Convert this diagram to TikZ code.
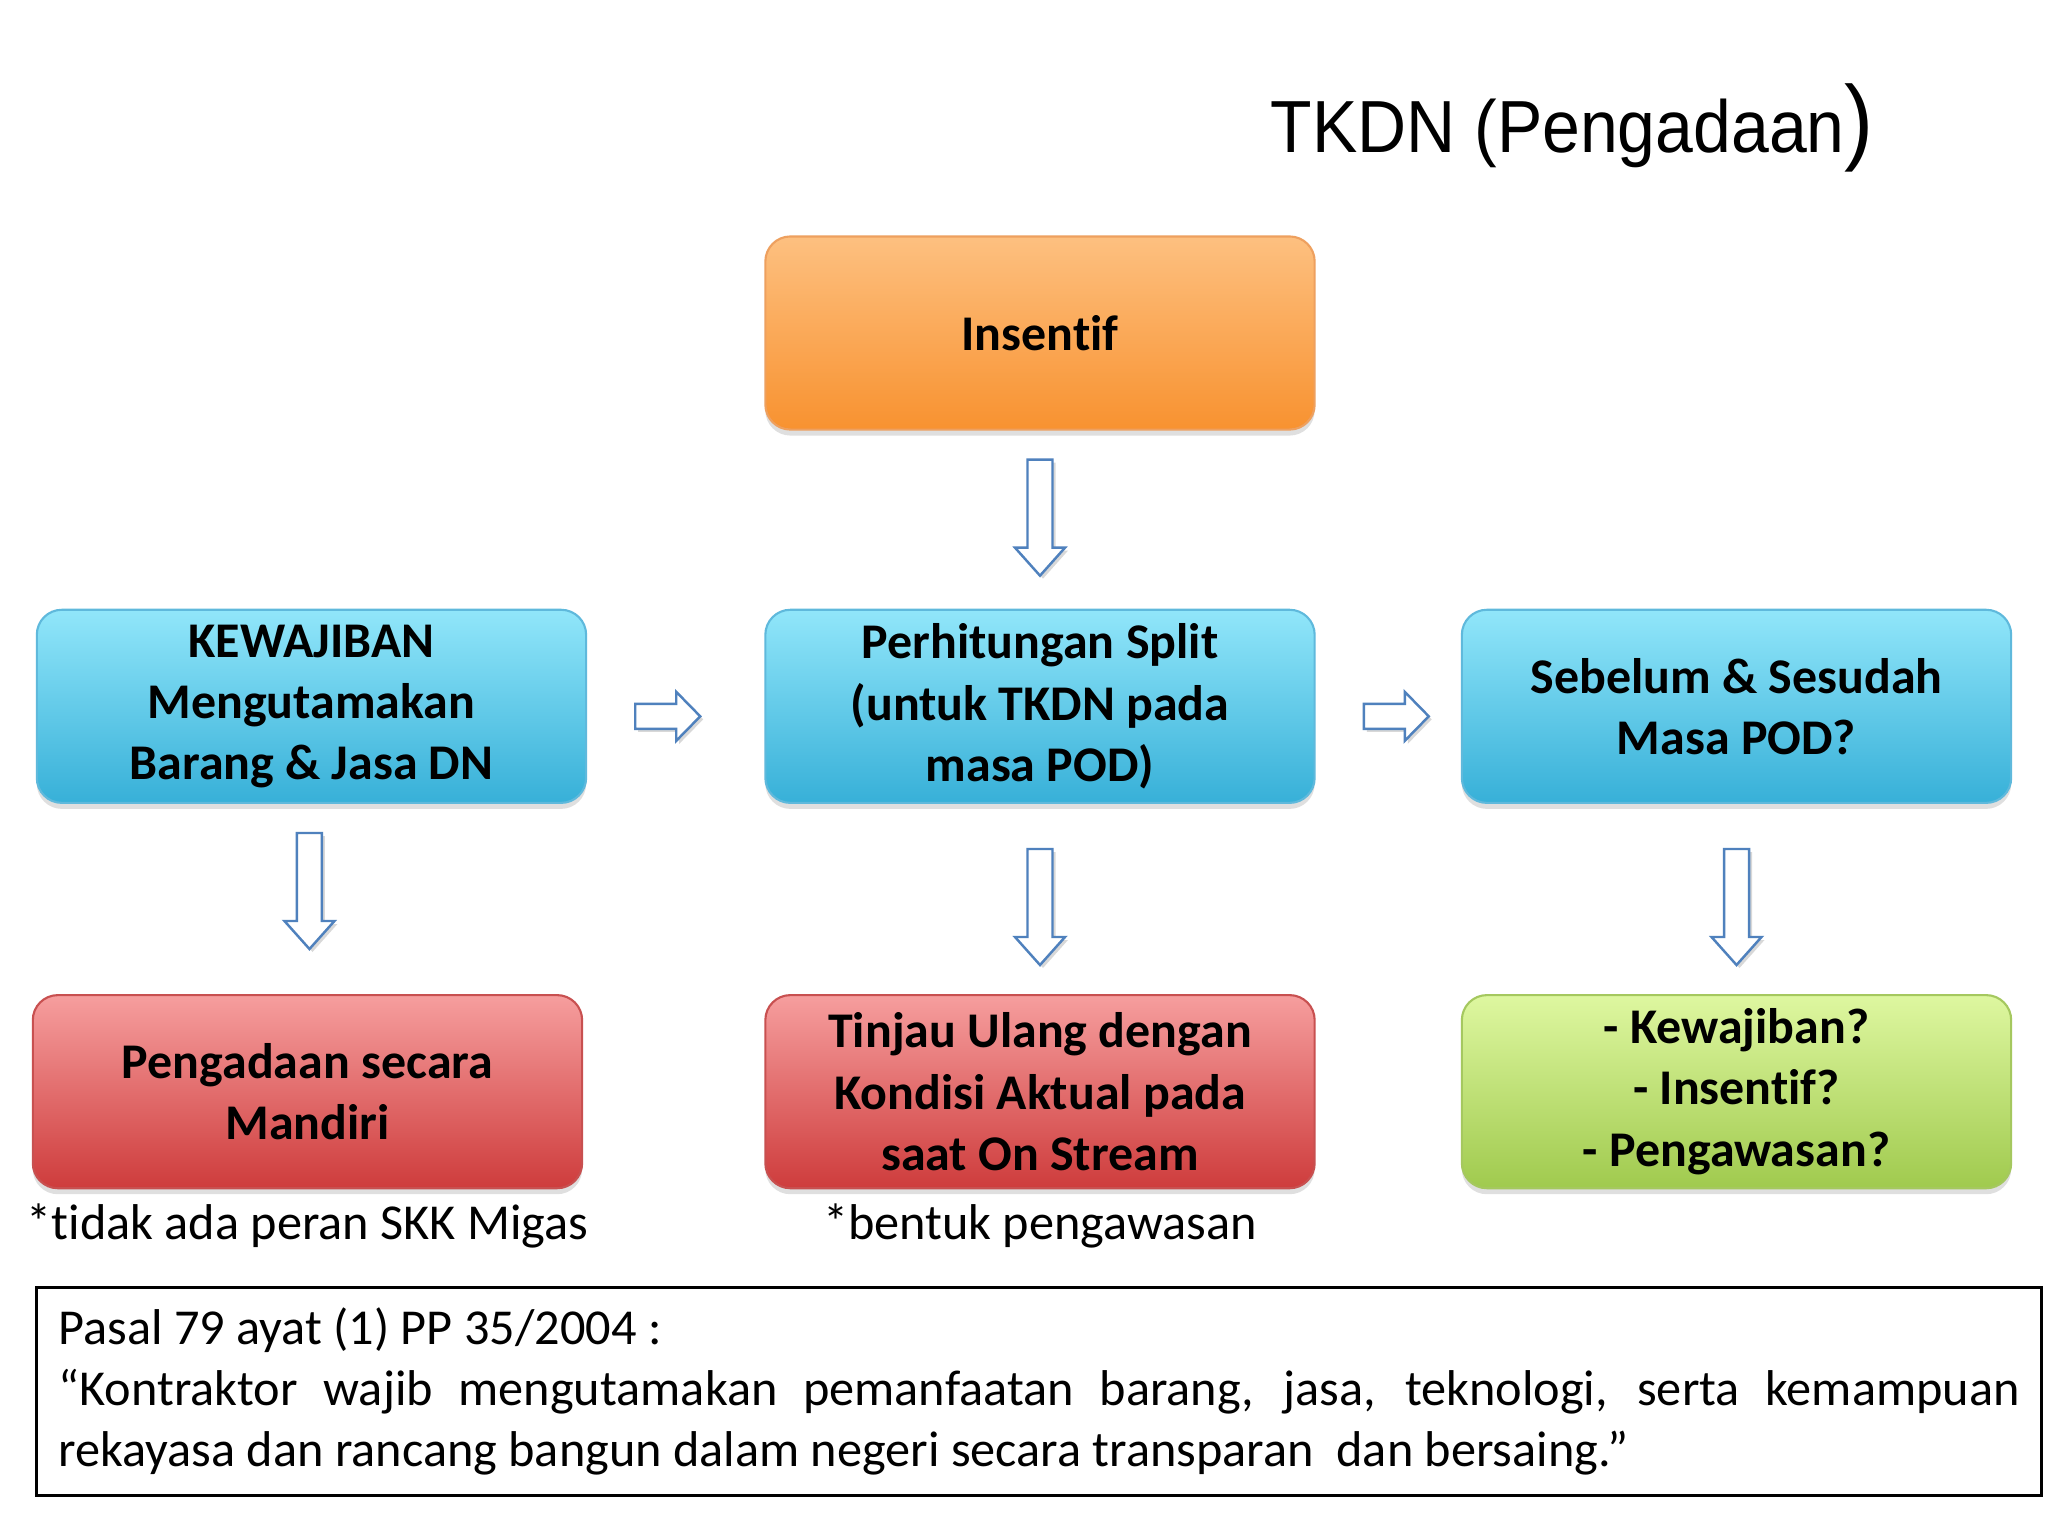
\documentclass[tikz,border=0pt]{standalone}
\usepackage{fontspec}
\setmainfont{Carlito}[Ligatures={NoCommon}]
\newfontfamily\titlefont{Liberation Sans}
\usetikzlibrary{calc, positioning, shadows}

\definecolor{orangetop}{RGB}{253,192,128}
\definecolor{orangebot}{RGB}{248,146,48}
\definecolor{orangeline}{RGB}{238,160,95}
\definecolor{bluetop}{RGB}{145,230,250}
\definecolor{bluebot}{RGB}{55,176,216}
\definecolor{blueline}{RGB}{95,185,220}
\definecolor{redtop}{RGB}{246,158,158}
\definecolor{redbot}{RGB}{206,60,60}
\definecolor{redline}{RGB}{200,80,80}
\definecolor{greentop}{RGB}{222,247,160}
\definecolor{greenbot}{RGB}{160,202,78}
\definecolor{greenline}{RGB}{165,200,95}
\definecolor{arrowblue}{RGB}{79,129,189}

\tikzset{
  box/.style={rectangle, rounded corners=0.25cm, minimum width=5.49cm, minimum height=1.93cm,
    align=center, font=\fontsize{14.2}{17.4}\selectfont\bfseries, line width=0.6pt,
    drop shadow={shadow xshift=0cm, shadow yshift=-0.06cm, opacity=0.25}},
  orangebox/.style={box, draw=orangeline, top color=orangetop, bottom color=orangebot},
  bluebox/.style={box, draw=blueline, top color=bluetop, bottom color=bluebot},
  redbox/.style={box, draw=redline, top color=redtop, bottom color=redbot},
  greenbox/.style={box, draw=greenline, top color=greentop, bottom color=greenbot},
  blockarrow/.style={draw=arrowblue, fill=white, line width=0.7pt, line join=miter,
    drop shadow={shadow xshift=0.03cm, shadow yshift=-0.03cm, opacity=0.3}},
  note/.style={font=\fontsize{14.3}{17.4}\selectfont},
}

% block arrow pointing down, between two nodes
\newcommand{\downblock}[3][0]{%
  \draw[blockarrow] ($(#2.south)!0.5!(#3.north)$) ++(-12.5,{#1-58}) -- ++(25,0) -- ++(0,88)
    -- ++(12.5,0) -- ++(-25,28) -- ++(-25,-28) -- ++(12.5,0) -- cycle;}
% block arrow pointing right, between two nodes
\newcommand{\rightblock}[3][0]{%
  \draw[blockarrow] ($(#2.east)!0.5!(#3.west)$) ++({#1-32.5},-2.5) -- ++(41,0) -- ++(0,-12)
    -- ++(24,24.5) -- ++(-24,24.5) -- ++(0,-12) -- ++(-41,0) -- cycle;}

\begin{document}
\begin{tikzpicture}[x=0.01cm, y=-0.01cm]
    \useasboundingbox[fill=white] (0,0) rectangle (2048,1536);

    \node[anchor=base west, inner sep=0pt] (judul) at (1270,152)
        {\titlefont\scalebox{0.92}[1]{\fontsize{21}{25}\selectfont TKDN (Pengadaan{\fontsize{27}{30}\selectfont)}}};

    \node[orangebox] (ins) at (1040,333) {Insentif};
    \node[bluebox, below=1.78cm of ins] (split) {Perhitungan Split\\(untuk TKDN pada\\masa POD)};
    \node[bluebox, left=1.77cm of split] (kew) {KEWAJIBAN\\Mengutamakan\\Barang \& Jasa DN};
    \node[bluebox, right=1.45cm of split] (sebelum) {Sebelum \& Sesudah\\Masa POD?};

    \node[redbox, below=1.9cm of kew, xshift=-0.04cm] (mandiri) {Pengadaan secara\\Mandiri};
    \node[redbox, below=1.9cm of split] (tinjau) {Tinjau Ulang dengan\\Kondisi Aktual pada\\saat On Stream};
    \node[greenbox, below=1.9cm of sebelum] (tanya) {- Kewajiban?\\- Insentif?\\- Pengawasan?};

    \node[note, below=0.02cm of mandiri] (catatan1) {*tidak ada peran SKK Migas};
    \node[note, below=0.02cm of tinjau] (catatan2) {*bentuk pengawasan};

    \downblock[-2]{ins}{split}
    \downblock[-8]{kew}{mandiri}
    \downblock[8]{split}{tinjau}
    \downblock[8]{sebelum}{tanya}
    \rightblock[-8]{kew}{split}
    \rightblock[8]{split}{sebelum}

    \node[draw=black, line width=0.9pt, anchor=north west, text width=19.6cm, inner xsep=0.22cm,
        minimum height=2.08cm, align=justify, note] (pasal) at (35,1286)
        {Pasal 79 ayat (1) PP 35/2004 :\\
        “Kontraktor wajib mengutamakan pemanfaatan barang, jasa, teknologi, serta kemampuan\linebreak
        rekayasa dan rancang bangun dalam negeri secara transparan\ \ dan bersaing.”};

\end{tikzpicture}
\end{document}
